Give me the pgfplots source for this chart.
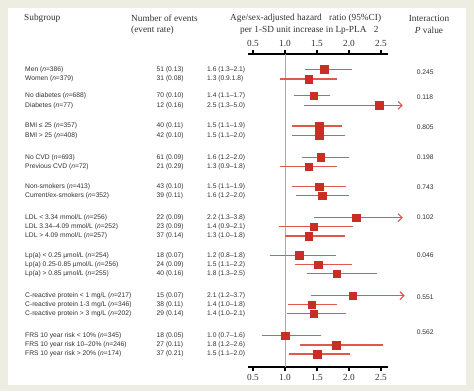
\documentclass[border=0pt]{standalone}
\usepackage{fontspec}
\setmainfont{Liberation Serif}
\newfontfamily\sansf{Liberation Sans}
\usepackage{pgfplots}
\usepackage{pgfplotstable}
\pgfplotsset{compat=1.18}
\usetikzlibrary{arrows.meta}
\definecolor{bgbeige}{RGB}{237,237,226}
\definecolor{sqred}{RGB}{200,45,38}
\definecolor{cired}{RGB}{222,88,78}
\definecolor{txt}{RGB}{50,50,50}
\definecolor{reflinegray}{RGB}{170,170,170}

% point estimates (all rows)
\pgfplotstableread{
hr   y
1.61 69.3
1.37 79.0
1.45 95.7
2.47 105.3
1.53 126.0
1.53 135.3
1.56 157.3
1.37 166.7
1.53 186.7
1.58 195.7
2.11 217.7
1.45 226.7
1.37 236.0
1.22 255.3
1.52 264.7
1.81 273.7
2.06 295.7
1.42 304.7
1.45 313.7
1.00 335.7
1.80 345.0
1.50 354.0
}\sqdata

\newcommand{\rowfont}{\sansf\fontsize{6.7}{8}\selectfont\color{txt}}
\newcommand{\hdfont}{\fontsize{9.3}{11}\selectfont\color{txt}}
\newcommand{\row}[4]{%
  \node[anchor=west, inner sep=0pt, font=\rowfont] at (25pt,-#1pt) {#2};
  \node[anchor=west, inner sep=0pt, font=\rowfont] at (156.5pt,-#1pt) {#3};
  \node[anchor=west, inner sep=0pt, font=\rowfont] at (207pt,-#1pt) {#4};}
\newcommand{\pval}[2]{%
  \node[anchor=west, inner sep=0pt, font=\rowfont] at (416.7pt,-#1pt) {#2};}

\pgfplotsset{
  forestaxis/.style={
    at={(248pt,-54pt)}, anchor=north west,
    scale only axis, width=140pt, height=313pt,
    xmin=0.422, xmax=2.609, ymin=54, ymax=367, y dir=reverse,
    axis x line=box, axis y line=none,
    axis line style={black, line width=1.2pt},
    xtick={0.5,1,1.5,2,2.5},
    xticklabels={0.5,1.0,1.5,2.0,2.5},
    tick align=outside,
    major tick length=4pt,
    every tick/.style={black, line width=1.1pt},
    ticklabel style={font=\fontsize{9.3}{11}\selectfont\color{txt}},
    /pgf/number format/assume math mode=true,
    clip=false,
  }
}

\begin{document}
\begin{tikzpicture}
\path[use as bounding box] (0pt,0pt) rectangle (474pt,-391pt);
\fill[bgbeige] (0pt,0pt) rectangle (474pt,-391pt);
\fill[white] (8pt,-8pt) rectangle (466pt,-385pt);

% headers
\node[anchor=west, inner sep=0pt, font=\hdfont] at (24pt,-18pt) {Subgroup};
\node[anchor=west, inner sep=0pt, font=\hdfont] at (131pt,-18pt) {Number of events};
\node[anchor=west, inner sep=0pt, font=\hdfont] at (131pt,-30pt) {(event rate)};
\node[anchor=west, inner sep=0pt, font=\hdfont] at (230pt,-18pt) {Age/sex-adjusted hazard\hspace{5pt} ratio (95\%CI)};
\node[anchor=west, inner sep=0pt, font=\hdfont] at (240pt,-30pt) {per 1-SD unit increase in Lp-PLA\hspace{5pt} 2};
\node[anchor=center, inner sep=0pt, font=\hdfont] at (429pt,-18pt) {Interaction};
\node[anchor=center, inner sep=0pt, font=\hdfont] at (429pt,-30pt) {\textit{P} value};

% top scale
\begin{axis}[forestaxis, xticklabel pos=upper]
\addplot[draw=none, forget plot] coordinates {(1,60)};
\end{axis}

% bottom scale with data
\begin{axis}[forestaxis, xticklabel pos=lower]
\addplot[reflinegray, line width=0.8pt] coordinates {(1,54) (1,367)};
% 95% CI segments (lower, upper) per row
\addplot[cired, line width=1.3pt, unbounded coords=jump] table {
x    y
1.32 69.3
2.05 69.3
nan  nan
0.92 79.0
1.81 79.0
nan  nan
1.14 95.7
1.71 95.7
nan  nan
1.11 126.0
1.89 126.0
nan  nan
1.11 135.3
1.93 135.3
nan  nan
1.27 157.3
2.00 157.3
nan  nan
0.92 166.7
1.81 166.7
nan  nan
1.11 186.7
1.95 186.7
nan  nan
1.17 195.7
2.00 195.7
nan  nan
0.90 226.7
2.07 226.7
nan  nan
1.00 236.0
1.93 236.0
nan  nan
0.77 255.3
1.80 255.3
nan  nan
1.16 264.7
2.05 264.7
nan  nan
1.34 273.7
2.43 273.7
nan  nan
1.05 304.7
1.82 304.7
nan  nan
1.03 313.7
1.96 313.7
nan  nan
0.64 335.7
1.57 335.7
nan  nan
1.23 345.0
2.53 345.0
nan  nan
1.07 354.0
2.02 354.0
};
\addplot[cired, line width=1.3pt, -{Straight Barb[length=4pt,width=8pt,line width=1.1pt]}]
  coordinates {(1.30,105.3) (2.84,105.3)};
\addplot[cired, line width=1.3pt, -{Straight Barb[length=4pt,width=8pt,line width=1.1pt]}]
  coordinates {(1.46,217.7) (2.84,217.7)};
\addplot[cired, line width=1.3pt, -{Straight Barb[length=4pt,width=8pt,line width=1.1pt]}]
  coordinates {(1.41,295.7) (2.87,295.7)};
\addplot[only marks, mark=square*, mark size=3.8pt,
  mark options={draw=sqred, fill=sqred}] table[x=hr, y=y] {\sqdata};
\end{axis}

% rows
\row{69.3}{Men (\textit{n}=386)}{51 (0.13)}{1.6 (1.3–2.1)}
\row{79.0}{Women (\textit{n}=379)}{31 (0.08)}{1.3 (0.9.1.8)}
\row{95.7}{No diabetes (\textit{n}=688)}{70 (0.10)}{1.4 (1.1–1.7)}
\row{105.3}{Diabetes (\textit{n}=77)}{12 (0.16)}{2.5 (1.3–5.0)}
\row{126.0}{BMI ≤ 25 (\textit{n}=357)}{40 (0.11)}{1.5 (1.1–1.9)}
\row{135.3}{BMI > 25 (\textit{n}=408)}{42 (0.10)}{1.5 (1.1–2.0)}
\row{157.3}{No CVD (\textit{n}=693)}{61 (0.09)}{1.6 (1.2–2.0)}
\row{166.7}{Previous CVD (\textit{n}=72)}{21 (0.29)}{1.3 (0.9–1.8)}
\row{186.7}{Non-smokers (\textit{n}=413)}{43 (0.10)}{1.5 (1.1–1.9)}
\row{195.7}{Current/ex-smokers (\textit{n}=352)}{39 (0.11)}{1.6 (1.2–2.0)}
\row{217.7}{LDL < 3.34 mmol/L (\textit{n}=256)}{22 (0.09)}{2.2 (1.3–3.8)}
\row{226.7}{LDL 3.34–4.09 mmol/L (\textit{n}=252)}{23 (0.09)}{1.4 (0.9–2.1)}
\row{236.0}{LDL > 4.09 mmol/L (\textit{n}=257)}{37 (0.14)}{1.3 (1.0–1.8)}
\row{255.3}{Lp(a) < 0.25 µmol/L (\textit{n}=254)}{18 (0.07)}{1.2 (0.8–1.8)}
\row{264.7}{Lp(a) 0.25-0.85 µmol/L (\textit{n}=256)}{24 (0.09)}{1.5 (1.1–2.2)}
\row{273.7}{Lp(a) > 0.85 µmol/L (\textit{n}=255)}{40 (0.16)}{1.8 (1.3–2.5)}
\row{295.7}{C-reactive protein < 1 mg/L (\textit{n}=217)}{15 (0.07)}{2.1 (1.2–3.7)}
\row{304.7}{C-reactive protein 1-3 mg/L (\textit{n}=346)}{38 (0.11)}{1.4 (1.0–1.8)}
\row{313.7}{C-reactive protein > 3 mg/L (\textit{n}=202)}{29 (0.14)}{1.4 (1.0–2.1)}
\row{335.7}{FRS 10 year risk < 10\% (\textit{n}=345)}{18 (0.05)}{1.0 (0.7–1.6)}
\row{345.0}{FRS 10 year risk 10–20\% (\textit{n}=246)}{27 (0.11)}{1.8 (1.2–2.6)}
\row{354.0}{FRS 10 year risk > 20\% (\textit{n}=174)}{37 (0.21)}{1.5 (1.1–2.0)}

% interaction p values
\pval{71.7}{0.245}
\pval{97.3}{0.118}
\pval{126.7}{0.805}
\pval{156.7}{0.198}
\pval{186.7}{0.743}
\pval{216.7}{0.102}
\pval{255.0}{0.046}
\pval{296.7}{0.551}
\pval{332.0}{0.562}
\end{tikzpicture}
\end{document}
